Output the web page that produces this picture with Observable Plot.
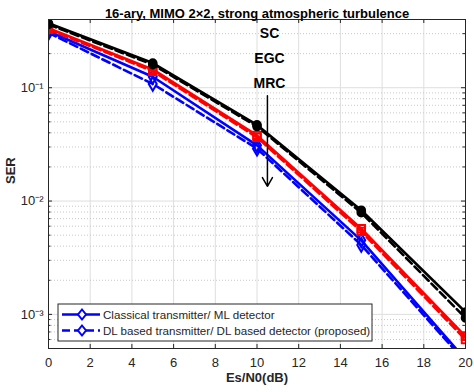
<!DOCTYPE html>
<html>
<head>
<meta charset="utf-8">
<script src="https://cdn.jsdelivr.net/npm/d3@7"></script>
<script src="https://cdn.jsdelivr.net/npm/@observablehq/plot@0.6"></script>
<style>
  html, body { margin: 0; padding: 0; background: white; }
</style>
</head>
<body>
<div id="chart"></div>
<script>
const title = "16-ary, MIMO 2\u00d72, strong atmospheric turbulence";
const xLabel = "Es/N0(dB)";
const yLabel = "SER";
const snr = [0, 5, 10, 15, 20];
const xTicks = [0, 2, 4, 6, 8, 10, 12, 14, 16, 18, 20];
const yTicks = [1e-3, 1e-2, 1e-1];
const yTickLabels = ["10\u207B\u00B3", "10\u207B\u00B2", "10\u207B\u00B9"];

const scClassical  = [0.37, 0.165, 0.047, 0.0083, 0.00105];
const scDL         = [0.362, 0.16, 0.0455, 0.0079, 0.00093];
const egcClassical = [0.335, 0.145, 0.038, 0.0057, 0.00064];
const egcDL        = [0.328, 0.14, 0.0365, 0.0054, 0.00060];
const mrcClassical = [0.315, 0.125, 0.031, 0.0045, 0.00040];
const mrcDL        = [0.305, 0.108, 0.029, 0.0041, 0.00038];

const schemeLabels = ["SC", "EGC", "MRC"];
const schemeLabelY = [0.30, 0.18, 0.11];
const labelX = 10.6;
const arrowY = [0.085, 0.0135];
const legendLabels = ["Classical transmitter/ ML detector", "DL based transmitter/ DL based detector (proposed)"];

const series = [
  {name: "SC", kind: "classical", vals: scClassical, color: "#000000", symbol: "circle"},
  {name: "SC", kind: "dl", vals: scDL, color: "#000000", symbol: "circle"},
  {name: "EGC", kind: "classical", vals: egcClassical, color: "#ff0000", symbol: "square"},
  {name: "EGC", kind: "dl", vals: egcDL, color: "#ff0000", symbol: "square"},
  {name: "MRC", kind: "classical", vals: mrcClassical, color: "#0000ff", symbol: "diamond"},
  {name: "MRC", kind: "dl", vals: mrcDL, color: "#0000ff", symbol: "diamond"}
];

const minorY = [];
for (const e of [-4, -3, -2, -1]) for (let m = 2; m <= 9; m++) {
  const v = m * Math.pow(10, e);
  if (v >= 5e-4 && v <= 0.4) minorY.push(v);
}

const lineMarks = [];
for (const s of series.slice().reverse()) {
  const rows = snr.map((x, i) => ({x, y: s.vals[i]}));
  lineMarks.push(Plot.line(rows, {
    x: "x", y: "y", stroke: s.color, strokeWidth: 2.6,
    strokeDasharray: s.kind === "dl" ? "8,4" : null, clip: true
  }));
  lineMarks.push(Plot.dot(rows, {
    x: "x", y: "y", symbol: () => s.symbol, r: s.symbol === "circle" ? 3.8 : 4.2,
    stroke: s.color, strokeWidth: 2,
    fill: s.symbol === "circle" ? s.color : "none", clip: true
  }));
}

const H = 392, mt = 19, mb = 44;
const ph = H - mt - mb;
const pw = 474 - 48 - 9;

const chart = Plot.plot({
  width: 474,
  height: H,
  marginLeft: 48,
  marginRight: 9,
  marginTop: mt,
  marginBottom: mb,
  style: {fontFamily: "'Liberation Sans', Arial, sans-serif", fontSize: "13px", color: "#262626", background: "white"},
  x: {domain: [0, 20]},
  y: {type: "log", domain: [5e-4, 0.4]},
  marks: [
    Plot.ruleX(xTicks, {x: d => d, stroke: "#dedede", strokeWidth: 1}),
    Plot.ruleY(minorY, {y: d => d, stroke: "#c8c8c8", strokeWidth: 1, strokeDasharray: "1,2"}),
    Plot.ruleY(yTicks, {y: d => d, stroke: "#dedede", strokeWidth: 1}),
    Plot.tickX(xTicks, {x: d => d, insetTop: ph - 4, stroke: "#262626"}),
    Plot.tickX(xTicks, {x: d => d, insetBottom: ph - 4, stroke: "#262626"}),
    Plot.tickY(yTicks, {y: d => d, insetRight: pw - 4, stroke: "#262626"}),
    Plot.tickY(yTicks, {y: d => d, insetLeft: pw - 4, stroke: "#262626"}),
    Plot.tickY(minorY, {y: d => d, insetRight: pw - 2.5, stroke: "#262626"}),
    Plot.tickY(minorY, {y: d => d, insetLeft: pw - 2.5, stroke: "#262626"}),
    Plot.axisX({ticks: xTicks, tickSize: 0, tickPadding: 9, label: null, fontSize: 13, fill: "#262626"}),
    Plot.axisY({ticks: yTicks, tickSize: 0, tickPadding: 5, label: null, fontSize: 13, fill: "#262626",
      tickFormat: d => yTickLabels[yTicks.indexOf(d)]}),
    ...lineMarks,
    Plot.frame({stroke: "#262626", strokeWidth: 1}),
    Plot.text(schemeLabels, {x: () => labelX, y: (d, i) => schemeLabelY[i], text: d => d,
      fontWeight: "bold", fontSize: 14, fill: "#000"}),
    Plot.arrow([0], {x1: () => labelX - 0.1, x2: () => labelX - 0.1, y1: () => arrowY[0], y2: () => arrowY[1],
      stroke: "#000", strokeWidth: 1.5, headLength: 10}),
    Plot.text([title], {frameAnchor: "top", dy: -11, text: d => d, fontWeight: "bold", fontSize: 13, fill: "#000"}),
    Plot.text([xLabel], {frameAnchor: "bottom", dy: 33, text: d => d, fontWeight: "bold", fontSize: 13, fill: "#262626"}),
    Plot.text([yLabel], {frameAnchor: "left", dx: -38, rotate: -90, text: d => d, fontWeight: "bold", fontSize: 13, fill: "#262626"})
  ]
});

const svg = d3.select(chart);
const lg = svg.append("g").attr("font-family", "'Liberation Sans', Arial, sans-serif")
  .attr("font-size", 11.6).attr("text-anchor", "start");
const lx = 58, ly = 304, lw = 314, lh = 37;
lg.append("rect").attr("x", lx).attr("y", ly).attr("width", lw).attr("height", lh)
  .attr("fill", "white").attr("stroke", "#262626").attr("stroke-width", 1);
legendLabels.forEach((lab, i) => {
  const y = ly + 10.5 + i * 16;
  lg.append("line").attr("x1", lx + 4).attr("x2", lx + 42).attr("y1", y).attr("y2", y)
    .attr("stroke", "#0000ff").attr("stroke-width", 2.6)
    .attr("stroke-dasharray", i === 1 ? "8,4" : null);
  const cx = lx + 24;
  lg.append("path").attr("d", `M${cx},${y - 5}L${cx + 4},${y}L${cx},${y + 5}L${cx - 4},${y}Z`)
    .attr("fill", "white").attr("stroke", "#0000ff").attr("stroke-width", 2);
  lg.append("text").attr("x", lx + 45).attr("y", y).attr("dy", "0.35em")
    .attr("text-anchor", "start").attr("fill", "#262626").text(lab);
});

document.getElementById("chart").appendChild(chart);
</script>
</body>
</html>
